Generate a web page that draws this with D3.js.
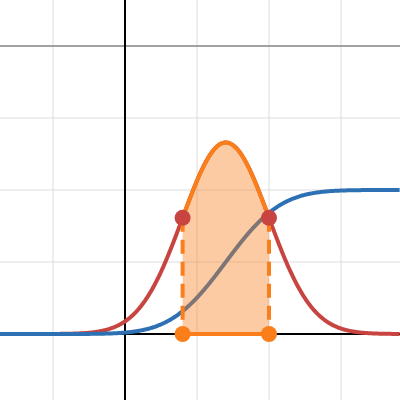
<!DOCTYPE html>
<html><head><meta charset="utf-8">
<script src="https://cdn.jsdelivr.net/npm/d3@7"></script>
<style>body{margin:0}svg{display:block}</style></head>
<body><svg id="c" width="400" height="400"></svg>
<script>
// distribution parameters
const mu = 1.4, sigma = 0.6, pdfScale = 4, cdfScale = 2;
const shadeFrom = [0.8], shadeTo = [2.0];
const gridX = [-1, 0, 1, 2, 3];
const gridY = [-1, 0, 1, 2, 3, 4];
const refLineY = [4];

const W = 400, H = 400;
const x = d3.scaleLinear().domain([-125 / 72, 275 / 72]).range([0, W]);
const y = d3.scaleLinear().domain([-66 / 72, 334 / 72]).range([H, 0]);
const svg = d3.select("#c");

svg.append("g").selectAll("line").data(gridX).join("line")
  .attr("x1", d => x(d)).attr("x2", d => x(d)).attr("y1", 0).attr("y2", H)
  .attr("stroke", "#ddd");
svg.append("g").selectAll("line").data(gridY).join("line")
  .attr("y1", d => y(d)).attr("y2", d => y(d)).attr("x1", 0).attr("x2", W)
  .attr("stroke", "#ddd");
svg.append("g").selectAll("line").data(refLineY).join("line")
  .attr("y1", d => y(d)).attr("y2", d => y(d)).attr("x1", 0).attr("x2", W)
  .attr("stroke", "#888").attr("stroke-width", 1.5);
svg.append("line").attr("x1", x(0)).attr("x2", x(0)).attr("y1", 0).attr("y2", H)
  .attr("stroke", "#000").attr("stroke-width", 2);
svg.append("line").attr("y1", y(0)).attr("y2", y(0)).attr("x1", 0).attr("x2", W)
  .attr("stroke", "#000").attr("stroke-width", 2);

const pdf = t => pdfScale * Math.exp(-((t - mu) ** 2) / (2 * sigma * sigma)) / (sigma * Math.sqrt(2 * Math.PI));
// CDF via erf approximation
function erf(z) {
  const s = Math.sign(z); z = Math.abs(z);
  const t = 1 / (1 + 0.3275911 * z);
  const p = t * (0.254829592 + t * (-0.284496736 + t * (1.421413741 + t * (-1.453152027 + t * 1.061405429))));
  return s * (1 - p * Math.exp(-z * z));
}
const cdf = t => cdfScale * 0.5 * (1 + erf((t - mu) / (sigma * Math.SQRT2)));

const xs = d3.range(x.domain()[0], x.domain()[1], 0.01);
const a = shadeFrom[0], b = shadeTo[0];
const xsIn = d3.range(a, b + 0.0001, 0.01);
const line = d3.line().x(d => x(d[0])).y(d => y(d[1]));

svg.append("path").attr("d", line(xs.map(t => [t, pdf(t)])))
  .attr("fill", "none").attr("stroke", "#c74440").attr("stroke-width", 4);
svg.append("path").attr("d", line(xs.map(t => [t, cdf(t)])))
  .attr("fill", "none").attr("stroke", "#2d70b3").attr("stroke-width", 4);
svg.append("path")
  .attr("d", d3.area().x(d => x(d)).y0(y(0)).y1(d => y(pdf(d)))(xsIn))
  .attr("fill", "#fa7e19").attr("fill-opacity", 0.4);
svg.append("path").attr("d", line(xsIn.map(t => [t, pdf(t)])))
  .attr("fill", "none").attr("stroke", "#fa7e19").attr("stroke-width", 4);
svg.append("g").selectAll("line").data([a, b]).join("line")
  .attr("x1", d => x(d)).attr("x2", d => x(d)).attr("y1", d => y(pdf(d))).attr("y2", y(0))
  .attr("stroke", "#fa7e19").attr("stroke-width", 4).attr("stroke-dasharray", "14,8");
svg.append("line").attr("x1", x(a)).attr("x2", x(b)).attr("y1", y(0)).attr("y2", y(0))
  .attr("stroke", "#fa7e19").attr("stroke-width", 4);
svg.append("g").selectAll("circle").data([a, b]).join("circle")
  .attr("cx", d => x(d)).attr("cy", y(0)).attr("r", 8).attr("fill", "#fa7e19");
svg.append("g").selectAll("circle").data([a, b]).join("circle")
  .attr("cx", d => x(d)).attr("cy", d => y(pdf(d))).attr("r", 8).attr("fill", "#c74440");
</script></body></html>
